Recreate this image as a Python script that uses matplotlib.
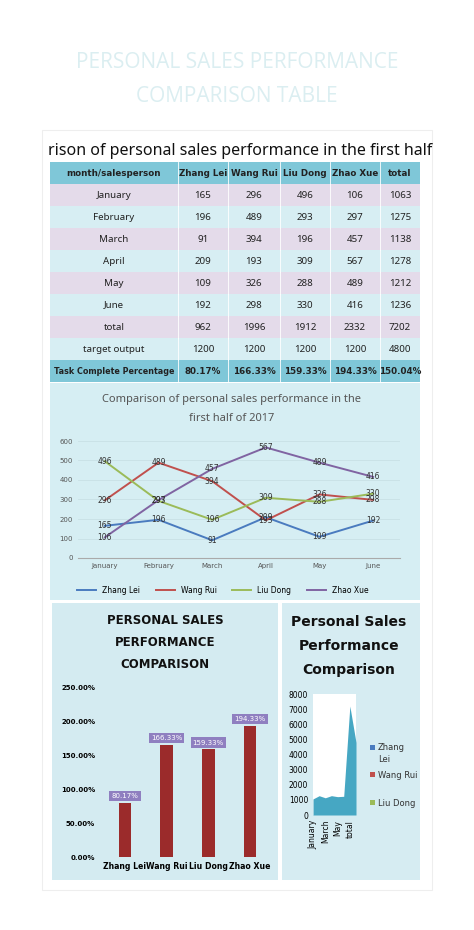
import matplotlib
matplotlib.use("Agg")
import matplotlib.pyplot as plt
from matplotlib.patches import Rectangle

months = ["January", "February", "March", "April", "May", "June"]
people = ["Zhang Lei", "Wang Rui", "Liu Dong", "Zhao Xue"]
zhang = [165, 196, 91, 209, 109, 192]
wang = [296, 489, 394, 193, 326, 298]
liu = [496, 293, 196, 309, 288, 330]
zhao = [106, 297, 457, 567, 489, 416]
totals_row = [962, 1996, 1912, 2332, 7202]
target_row = [1200, 1200, 1200, 1200, 4800]
pct_labels = ["80.17%", "166.33%", "159.33%", "194.33%", "150.04%"]
pct_values = [80.17, 166.33, 159.33, 194.33]
area_labels = months + ["total", "target"]
area_values = [1063, 1275, 1138, 1278, 1212, 1236, 7202, 4800]

W, H = 474, 930
fig = plt.figure(figsize=(W/100, H/100), dpi=100)
fig.patch.set_facecolor("white")
bg = fig.add_axes([0, 0, 1, 1])
bg.set_xlim(0, W); bg.set_ylim(H, 0); bg.axis("off")
BF = "DejaVu Sans"

def fa(x0, y0, x1, y1):
    return fig.add_axes([x0/W, 1-y1/H, (x1-x0)/W, (y1-y0)/H])

bg.text(237, 62, "PERSONAL SALES PERFORMANCE", ha="center", va="center", fontsize=15, color="#dbeef1", family="Open Sans")
bg.text(237, 97, "COMPARISON TABLE", ha="center", va="center", fontsize=15, color="#dbeef1", family="Open Sans")
bg.add_patch(Rectangle((42, 130), 390, 760, facecolor="white", edgecolor="#eeeeee", lw=0.8))

# table
bg.text(48, 151, "rison of personal sales performance in the first half", ha="left", va="center",
        fontsize=11.5, family="Noto Sans", color="#111111")
xs = [50, 178, 228, 280, 330, 380, 420]
y0 = 162; rh = 22
header = ["month/salesperson"] + people + ["total"]
rows = [[m, zhang[i], wang[i], liu[i], zhao[i], zhang[i]+wang[i]+liu[i]+zhao[i]] for i, m in enumerate(months)]
rows.append(["total"] + totals_row)
rows.append(["target output"] + target_row)
rows.append(["Task Complete Percentage"] + pct_labels)
allrows = [header] + rows
for r, row in enumerate(allrows):
    yt = y0 + r*rh
    if r == 0 or r == len(allrows)-1:
        col = "#7fc7d8"
    else:
        col = "#e4dbea" if r % 2 == 1 else "#d7eef3"
    bg.add_patch(Rectangle((xs[0], yt), xs[-1]-xs[0], rh, facecolor=col, edgecolor="none"))
    for c in range(6):
        bold = r == 0 or r == len(allrows)-1
        if bold:
            fs = 5.8 if (c == 0 and r > 0) else 6.3
            bg.text((xs[c]+xs[c+1])/2, yt+rh/2, str(row[c]), ha="center", va="center",
                    fontsize=fs, fontweight="bold", family=BF, color="#222222")
        else:
            bg.text((xs[c]+xs[c+1])/2, yt+rh/2, str(row[c]), ha="center", va="center",
                    fontsize=7, family="Noto Sans", color="#222222")
    for c in range(1, 6):
        bg.plot([xs[c], xs[c]], [yt, yt+rh], color="white", lw=0.6)

# line chart panel
bg.add_patch(Rectangle((50, 383), 370, 217, facecolor="#d6eef3", edgecolor="none"))
bg.text(232, 399, "Comparison of personal sales performance in the", ha="center", va="center", fontsize=8, color="#555555", family="Noto Sans")
bg.text(232, 418, "first half of 2017", ha="center", va="center", fontsize=8, color="#555555", family="Noto Sans")
ax = fa(78, 441, 400, 558)
ax.set_facecolor("#d6eef3")
colors = ["#4a7bbf", "#c0504d", "#9bbb59", "#8064a2"]
x = list(range(6))
for name, vals, c in zip(people, [zhang, wang, liu, zhao], colors):
    ax.plot(x, vals, color=c, lw=1.4, label=name)
    for xi, v in zip(x, vals):
        ax.text(xi, v, str(v), ha="center", va="center", fontsize=5.5, color="#333333")
ax.set_ylim(0, 600); ax.set_xlim(-0.5, 5.5)
ax.set_yticks(range(0, 601, 100))
ax.set_xticks(x); ax.set_xticklabels(months)
ax.tick_params(labelsize=5, colors="#555555", length=0)
ax.grid(axis="y", color="#c5dde2", lw=0.5)
for s in ["top", "right", "left"]:
    ax.spines[s].set_visible(False)
ax.spines["bottom"].set_color("#aaaaaa")
ax.legend(loc="upper center", bbox_to_anchor=(0.45, -0.18), ncol=4, fontsize=5.5, frameon=False, handlelength=2.5)

# bar panel
bg.add_patch(Rectangle((52, 603), 226, 277, facecolor="#d4ebf1", edgecolor="none"))
for i, t in enumerate(["PERSONAL SALES", "PERFORMANCE", "COMPARISON"]):
    bg.text(165, 620+22*i, t, ha="center", va="center", fontsize=8.5, fontweight="bold", family=BF, color="#111111")
bx = fa(100, 688, 275, 857)
bx.set_facecolor("#d4ebf1")
bx.bar(range(4), pct_values, width=0.3, color="#9b2b2b")
for i, v in enumerate(pct_values):
    bx.text(i, v + 10, pct_labels[i], ha="center", va="center", fontsize=5, color="white",
            bbox=dict(boxstyle="square,pad=0.3", fc="#8f7fc0", ec="none"))
bx.set_ylim(0, 250)
bx.set_yticks(range(0, 251, 50))
bx.set_yticklabels([f"{v:.2f}%" for v in range(0, 251, 50)], fontweight="bold")
bx.set_xticks(range(4)); bx.set_xticklabels(people, fontweight="bold")
bx.tick_params(axis="y", labelsize=5, length=0)
bx.tick_params(axis="x", labelsize=5.6, length=0)
for s in bx.spines.values():
    s.set_visible(False)
bx.axhline(0, color="#aaaaaa", lw=0.5)
bx.set_xlim(-0.6, 3.6)

# area panel
bg.add_patch(Rectangle((282, 603), 138, 277, facecolor="#d6ecf2", edgecolor="none"))
for i, t in enumerate(["Personal Sales", "Performance", "Comparison"]):
    bg.text(349, 622+24*i, t, ha="center", va="center", fontsize=10, fontweight="bold", family=BF, color="#111111")
ar = fa(313, 694, 356, 815)
ar.set_facecolor("white")
xa = list(range(len(area_values)))
ar.fill_between(xa, area_values, color="#46a7c3", lw=0)
ar.set_xlim(0, len(area_values)-1); ar.set_ylim(0, 8000)
ar.set_yticks(range(0, 8001, 1000))
ar.set_xticks(xa[::2]); ar.set_xticklabels(area_labels[::2], rotation=90)
ar.tick_params(labelsize=5.5, length=0)
for s in ar.spines.values():
    s.set_visible(False)
for i, (name, c) in enumerate(zip(people[:3], colors[:3])):
    yy = [748, 775, 803][i]
    bg.add_patch(Rectangle((370, yy-3), 5, 5, facecolor=c, edgecolor="none"))
bg.text(378, 747, "Zhang", fontsize=6, va="center", color="#333333")
bg.text(378, 759, "Lei", fontsize=6, va="center", color="#333333")
bg.text(378, 775, "Wang Rui", fontsize=6, va="center", color="#333333")
bg.text(378, 803, "Liu Dong", fontsize=6, va="center", color="#333333")

fig.savefig("out.png", dpi=100)
